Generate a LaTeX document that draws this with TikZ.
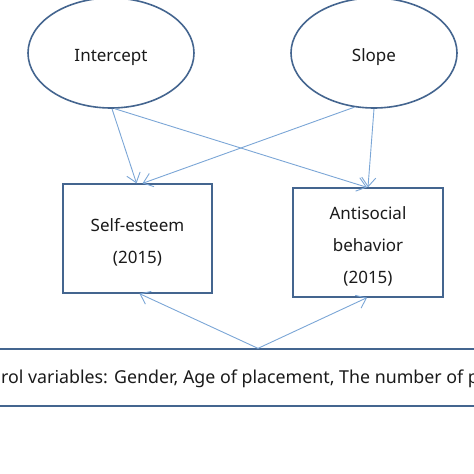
\documentclass[tikz,border=0pt]{standalone}
\usepackage{fontspec}
\setmainfont{Noto Sans}
\usetikzlibrary{arrows.meta,shapes.geometric}
\definecolor{edgeblue}{HTML}{44658F}
\definecolor{arrowblue}{HTML}{7BA6D6}
\definecolor{txt}{HTML}{1A1A1A}
\begin{document}
\begin{tikzpicture}[x=1pt,y=-1pt,
  latent/.style={draw=edgeblue,line width=1.6pt,ellipse,minimum width=166pt,minimum height=110pt,inner sep=0pt},
  lbl/.style={text=txt,font=\fontsize{17}{20}\selectfont,inner sep=0pt},
  multi/.style={lbl,align=center,font=\fontsize{17}{32}\selectfont},
  obsbox/.style={draw=edgeblue,line width=1.3pt,rectangle,inner sep=0pt},
  link/.style={draw=arrowblue,line width=0.9pt,-{Straight Barb[length=9pt,width=14pt]}}
]
\useasboundingbox (0,0) rectangle (474,474);
\clip (0,0) rectangle (474,474);
\node[latent] (int) at (111,53) {};
\node[lbl] (intt) at (111,57) {Intercept};
\node[latent] (sl) at (374,53) {};
\node[lbl] (slt) at (374,57) {Slope};
\node[obsbox,minimum width=149pt,minimum height=109pt] (se) at (137.5,238.5) {};
\node[multi] (set) at (137.5,242) {Self-esteem\\(2015)};
\node[obsbox,minimum width=150pt,minimum height=109pt] (as) at (368,242.5) {};
\node[multi] (ast) at (368,246.5) {Antisocial\\behavior\\(2015)};
\node[obsbox,minimum width=540pt,minimum height=57pt] (ctrl) at (258,377.5) {};
\node[lbl,anchor=west,font=\fontsize{17.8}{20}\selectfont] (ctrlt) at (1,379) {rol variables: Gender, Age of placement, The number of p};
\draw[link] ([xshift=1pt]int.south) -- ([xshift=-1pt]se.north);
\draw[link] ([xshift=4pt]int.south) -- ([xshift=-1pt]as.north);
\draw[link] (sl.-110) -- ([xshift=5pt]se.north);
\draw[link] (sl.south) -- (as.north);
\draw[link] (ctrl.north) -- ([xshift=2pt]se.south);
\draw[link] (ctrl.north) -- ([xshift=-1pt]as.south);
\end{tikzpicture}
\end{document}
